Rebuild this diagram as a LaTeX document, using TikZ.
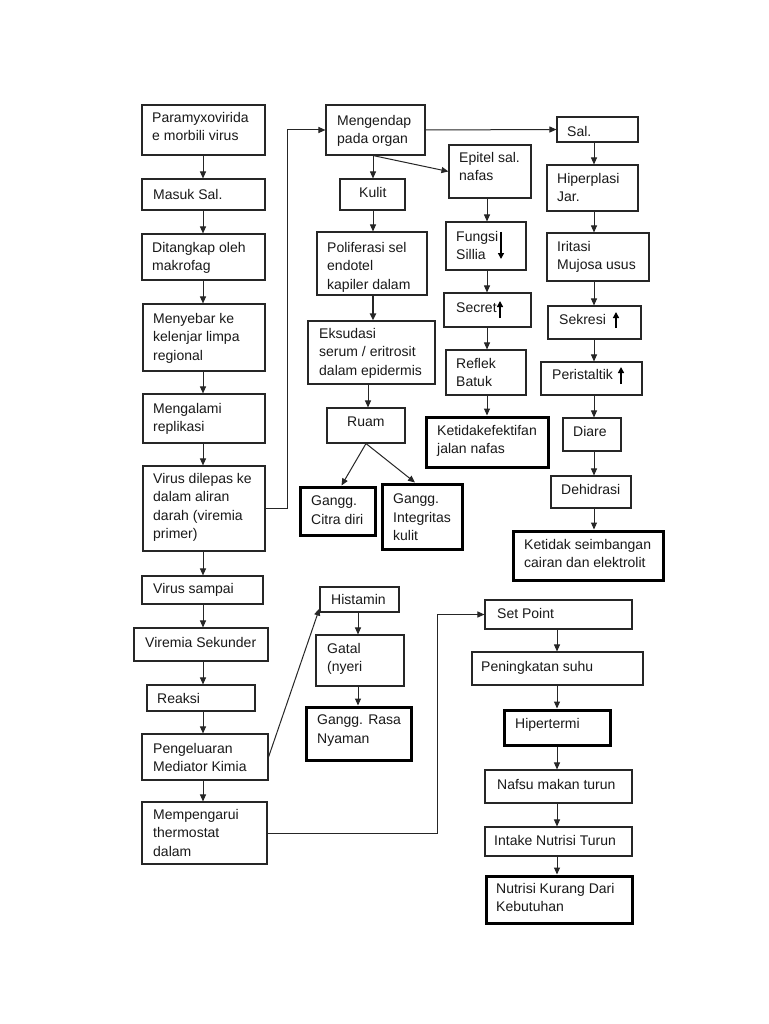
\documentclass[tikz,border=0pt]{standalone}
\usepackage{fontspec}
\setmainfont{Liberation Sans}
\usetikzlibrary{arrows.meta,fit,calc}
\tikzset{
  box/.style={draw=black!85, line width=1.1pt, inner sep=0pt},
  tbox/.style={draw=black, line width=3pt, inner sep=0pt},
  txt/.style={anchor=north west, inner sep=0pt, align=left,
    font=\fontsize{14}{18.5}\selectfont, text=black!90},
  arr/.style={draw=black!85, line width=1pt, -{Triangle[length=7pt,width=6pt]}},
  thickarr/.style={arr, line width=1.9pt},
  ind/.style={draw=black, line width=1.4pt, -{Triangle[length=6pt,width=6pt]}},
}
\newcommand\bx[9][box]{%
  \node[#1, fit={(#3,#4) (#5,#6)}] (#2) {};
  \node[txt] (#2-t) at (#7,#8) {#9};
}
\begin{document}
\begin{tikzpicture}[x=1pt,y=-1pt]
\fill[white] (0,0) rectangle (768,1024);
\useasboundingbox (0,0) rectangle (768,1024);

% left column
\bx{p1}{142}{105}{265}{155}{152}{112}{Paramyxovirida\\e morbili virus}
\bx{p2}{142}{179}{265}{210}{153}{189}{Masuk Sal.}
\bx{p3}{142}{234}{265}{280}{152}{242}{Ditangkap oleh\\makrofag}
\bx{p4}{143}{304}{265}{371}{153}{313}{Menyebar ke\\kelenjar limpa\\regional}
\bx{p5}{143}{394}{265}{443}{153}{403}{Mengalami\\replikasi}
\bx{p6}{143}{466}{265}{551}{153}{473}{Virus dilepas ke\\dalam aliran\\darah (viremia\\primer)}
\bx{p7}{142}{576}{263}{604}{153}{583}{Virus sampai}
\bx{p8}{134}{628}{268}{661}{145}{637}{Viremia Sekunder}
\bx{p9}{147}{685}{255}{711}{157}{693}{Reaksi}
\bx{p10}{142}{734}{268}{780}{153}{743}{Pengeluaran\\Mediator Kimia}
\bx{p11}{142}{802}{267}{864}{153}{809}{Mempengarui\\thermostat\\dalam}

% middle column
\bx{m1}{326}{105}{425}{155}{337}{115}{Mengendap\\pada organ}
\bx{kulit}{340}{179}{405}{210}{359}{187}{Kulit}
\bx{pol}{317}{232}{427}{295}{327}{242}{Poliferasi sel\\endotel\\kapiler dalam}
\bx{eks}{308}{321}{435}{384}{319}{328}{Eksudasi\\serum / eritrosit\\dalam epidermis}
\bx{ruam}{327}{408}{405}{443}{347}{417}{Ruam}
\bx[tbox]{gc}{300}{487}{375}{535}{311}{496}{Gangg.\\Citra diri}
\bx[tbox]{gi}{382}{484}{462}{549}{393}{494}{Gangg.\\Integritas\\kulit}

% respiratory column
\bx{ep}{449}{145}{531}{198}{459}{152}{Epitel sal.\\nafas}
\bx{fs}{446}{222}{526}{270}{456}{231}{Fungsi\\Sillia}
\bx{sc}{444}{293}{531}{327}{456}{303}{Secret}
\bx{rb}{446}{350}{526}{395}{456}{358}{Reflek\\Batuk}
\bx[tbox]{kj}{426}{417}{548}{467}{437}{425}{Ketidakefektifan\\jalan nafas}

% right column
\bx{sal}{557}{117}{638}{142}{567}{126}{Sal.}
\bx{hp}{547}{165}{638}{211}{557}{173}{Hiperplasi\\Jar.}
\bx{ir}{547}{233}{649}{281}{557}{241}{Iritasi\\Mujosa usus}
\bx{sk}{548}{306}{641}{339}{559}{314}{Sekresi}
\bx{ps}{541}{362}{642}{395}{552}{369}{Peristaltik}
\bx{di}{563}{418}{621}{451}{573}{426}{Diare}
\bx{dh}{551}{476}{631}{508}{561}{484}{Dehidrasi}
\bx[tbox]{ks}{513}{531}{663}{580}{524}{539}{Ketidak seimbangan\\cairan dan elektrolit}

% bottom middle
\bx{hs}{320}{587}{399}{612}{331}{594}{Histamin}
\bx{gt}{316}{635}{404}{686}{327}{643}{Gatal\\(nyeri}
\bx[tbox]{gr}{306}{707}{411}{760}{317}{715}{Gangg. Rasa\\Nyaman}

% bottom right
\bx{sp}{485}{600}{632}{629}{497}{608}{Set Point}
\bx{pn}{472}{652}{643}{685}{481}{661}{Peningkatan suhu}
\bx[tbox]{ht}{504}{710}{610}{745}{515}{718}{Hipertermi}
\bx{nm}{485}{770}{632}{803}{497}{779}{Nafsu makan turun}
\bx{it}{485}{827}{632}{856}{494}{835}{Intake Nutrisi Turun}
\bx[tbox]{nk}{486}{876}{632}{923}{496}{883}{Nutrisi Kurang Dari\\Kebutuhan}

% column x positions
\coordinate (cL) at (203,0);
\coordinate (cM) at (373,0);
\coordinate (cM2) at (368,0);
\coordinate (cE) at (487,0);
\coordinate (cR) at (594,0);
\coordinate (cH) at (358,0);
\coordinate (cS) at (557,0);
\coordinate (bendA) at (287,0);
\coordinate (bendB) at (437,0);

% left column arrows
\foreach \a/\b in {p1/p2,p2/p3,p3/p4,p4/p5,p5/p6,p6/p7,p7/p8,p8/p9,p9/p10,p10/p11}
  \draw[arr] (cL |- \a.south) -- (cL |- \b.north);

% middle
\draw[arr] (cM |- m1.south) -- (cM |- kulit.north);
\draw[arr] (cM |- kulit.south) -- (cM |- pol.north);
\draw[thickarr] (cM |- pol.south) -- (cM |- eks.north);
\draw[arr] (cM2 |- eks.south) -- (cM2 |- ruam.north);
\draw[arr] (ruam.south) -- ([xshift=4pt]gc.north);
\draw[arr] (ruam.south) -- ([xshift=-7pt]gi.north);
\draw[arr] (cM |- m1.south) -- (ep.west);

% respiratory
\foreach \a/\b in {ep/fs,fs/sc,sc/rb,rb/kj}
  \draw[arr] (cE |- \a.south) -- (cE |- \b.north);

% right
\foreach \a/\b in {sal/hp,hp/ir,ir/sk,sk/ps,ps/di,di/dh,dh/ks}
  \draw[arr] (cR |- \a.south) -- (cR |- \b.north);

% histamine
\draw[arr] (cH |- hs.south) -- (cH |- gt.north);
\draw[arr] (cH |- gt.south) -- (cH |- gr.north);

% fever
\foreach \a/\b in {sp/pn,pn/ht,ht/nm,nm/it,it/nk}
  \draw[arr] (cS |- \a.south) -- (cS |- \b.north);

% cross connectors
\draw[arr] (p6.east) -- (p6.east -| bendA) |- (m1.west);
\draw[arr] (m1.east) -- (sal.west);
\draw[arr] (p10.east) -- ([yshift=4pt]hs.south west);
\draw[arr] (p11.east) -- (p11.east -| bendB) |- (sp.west);

% indicator arrows inside labels
\draw[ind] (501,232) -- (501,259);
\draw[ind] (500,318) -- (500,301);
\draw[ind] (616,328) -- (616,312);
\draw[ind] (621,384) -- (621,367);
\end{tikzpicture}
\end{document}
